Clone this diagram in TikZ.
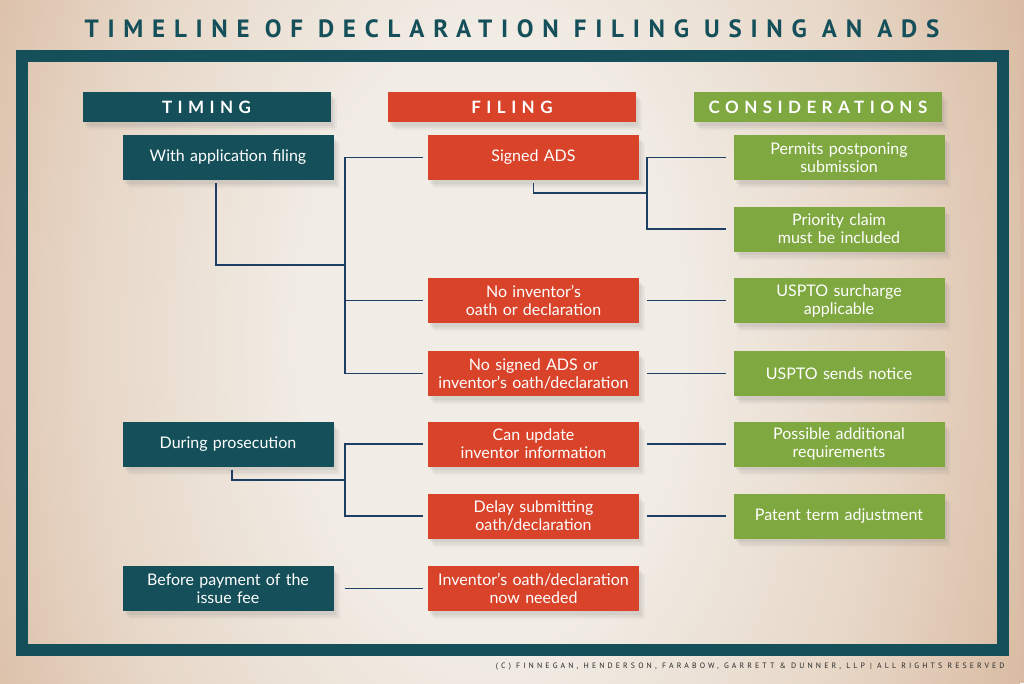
\documentclass[tikz,border=0pt]{standalone}
\usepackage{fontspec}
\setmainfont{Lato}
\newfontfamily\titlefont[LetterSpace=35]{PT Sans}
\newfontfamily\headfont[LetterSpace=32]{Lato}
\newfontfamily\notefont[LetterSpace=40]{PT Sans}
\usetikzlibrary{positioning,calc,shadows}

\definecolor{timeteal}{RGB}{21,80,90}
\definecolor{filered}{RGB}{217,67,42}
\definecolor{considgreen}{RGB}{127,168,64}
\definecolor{linknavy}{RGB}{30,62,100}
\definecolor{bglight}{RGB}{241,236,229}
\definecolor{bgmid}{RGB}{231,215,199}
\definecolor{bgdark}{RGB}{217,188,163}
\pgfdeclareradialshading{paper}{\pgfpoint{0bp}{0bp}}{color(0bp)=(bglight); color(9bp)=(bglight); color(19bp)=(bgmid); color(27bp)=(bgdark); color(50bp)=(bgdark)}

\tikzset{
	softshadow/.style={
		drop shadow={shadow xshift=6pt, shadow yshift=-8pt, opacity=0.07},
		drop shadow={shadow xshift=4pt, shadow yshift=-6pt, opacity=0.09},
		drop shadow={shadow xshift=2pt, shadow yshift=-3.5pt, opacity=0.11}},
	cellbox/.style={minimum width=211pt, minimum height=45pt, text width=208pt, align=center, inner sep=0pt, text=white, font=\fontsize{16}{18}\selectfont, softshadow},
	timingbox/.style={cellbox, fill=timeteal},
	filingbox/.style={cellbox, fill=filered},
	considbox/.style={cellbox, fill=considgreen},
	headbox/.style={minimum width=248pt, minimum height=30pt, inner sep=0pt, text=white, font=\headfont\bfseries\fontsize{17}{17}\selectfont, softshadow},
	link/.style={draw=linknavy, line width=1.8pt},
}
\newcommand{\cellnode}[5]{
	\node[#1] (#2) at (#3pt,#4pt) {#5};
}

\begin{document}
\begin{tikzpicture}
	\useasboundingbox (0,0) rectangle (1024pt,-683pt);
	\fill[bgdark] (0,0) rectangle (1024pt,-683pt);
	\begin{scope}
		\clip (0,0) rectangle (1024pt,-683pt);
		\shade[shading=paper] (-40pt,500pt) rectangle (1020pt,-1180pt);
	\end{scope}
	\draw[timeteal, line width=12pt] (21.5pt,-55.5pt) rectangle (1002.5pt,-649.5pt);

	\node[font=\titlefont\bfseries\fontsize{25}{25}\selectfont, text=timeteal] (title) at (512pt,-29pt) {TIMELINE OF DECLARATION FILING USING AN ADS};

	\node[headbox, fill=timeteal] (timinghead) at (206.5pt,-107pt) {TIMING};
	\node[headbox, fill=filered] (filinghead) at (512pt,-107pt) {FILING};
	\node[headbox, fill=considgreen] (considhead) at (818pt,-107pt) {CONSIDERATIONS};

	\cellnode{timingbox}{withapp}{228}{-157.5}{With application filing}
	\cellnode{timingbox}{during}{228}{-444}{During prosecution}
	\cellnode{timingbox}{beforefee}{228}{-588.5}{Before payment of the\\issue fee}

	\cellnode{filingbox}{signed}{533.5}{-157.5}{Signed ADS}
	\cellnode{filingbox}{nooath}{533.5}{-300.5}{No inventor's\\oath or declaration}
	\cellnode{filingbox}{nosigned}{533.5}{-373.5}{No signed ADS or\\inventor's oath/declaration}
	\cellnode{filingbox}{update}{533.5}{-444}{Can update\\inventor information}
	\cellnode{filingbox}{delay}{533.5}{-516}{Delay submitting\\oath/declaration}
	\cellnode{filingbox}{needed}{533.5}{-588.5}{Inventor's oath/declaration\\now needed}

	\cellnode{considbox}{permits}{839}{-157.5}{Permits postponing\\submission}
	\cellnode{considbox}{priority}{839}{-229}{Priority claim\\must be included}
	\cellnode{considbox}{surcharge}{839}{-300.5}{USPTO surcharge\\applicable}
	\cellnode{considbox}{notice}{839}{-373.5}{USPTO sends notice}
	\cellnode{considbox}{additional}{839}{-444}{Possible additional\\requirements}
	\cellnode{considbox}{adjust}{839}{-516}{Patent term adjustment}

	% with application filing
	\coordinate (jointA) at (345pt,-265pt);
	\draw[link] ([xshift=-12pt,yshift=-3pt]withapp.south) |- (jointA);
	\draw[link] ([xshift=-5pt]signed.west) -| (jointA) |- ([xshift=-5pt]nosigned.west);
	\draw[link] (jointA |- nooath.west) -- ([xshift=-5pt]nooath.west);

	\coordinate (jointB) at (647pt,-193pt);
	\draw[link] ([yshift=-3pt]signed.south) |- (jointB);
	\draw[link] ([xshift=-7pt]permits.west) -| (jointB) |- ([xshift=-7pt]priority.west);

	\draw[link] ([xshift=8pt]nooath.east) -- ([xshift=-7pt]surcharge.west);
	\draw[link] ([xshift=8pt]nosigned.east) -- ([xshift=-7pt]notice.west);
	\draw[link] ([xshift=8pt]update.east) -- ([xshift=-7pt]additional.west);
	\draw[link] ([xshift=8pt]delay.east) -- ([xshift=-7pt]adjust.west);

	% during prosecution
	\coordinate (jointC) at (345pt,-480pt);
	\draw[link] ([xshift=4pt,yshift=-3pt]during.south) |- (jointC);
	\draw[link] ([xshift=-5pt]update.west) -| (jointC) |- ([xshift=-5pt]delay.west);

	\draw[link] ([xshift=11pt]beforefee.east) -- ([xshift=-5pt]needed.west);

	\node[anchor=east, font=\notefont\fontsize{7.8}{7.8}\selectfont, text=black!85] (rights) at (1008pt,-667pt) {(C) FINNEGAN, HENDERSON, FARABOW, GARRETT \& DUNNER, LLP \textbar{} ALL RIGHTS RESERVED};
\end{tikzpicture}
\end{document}
